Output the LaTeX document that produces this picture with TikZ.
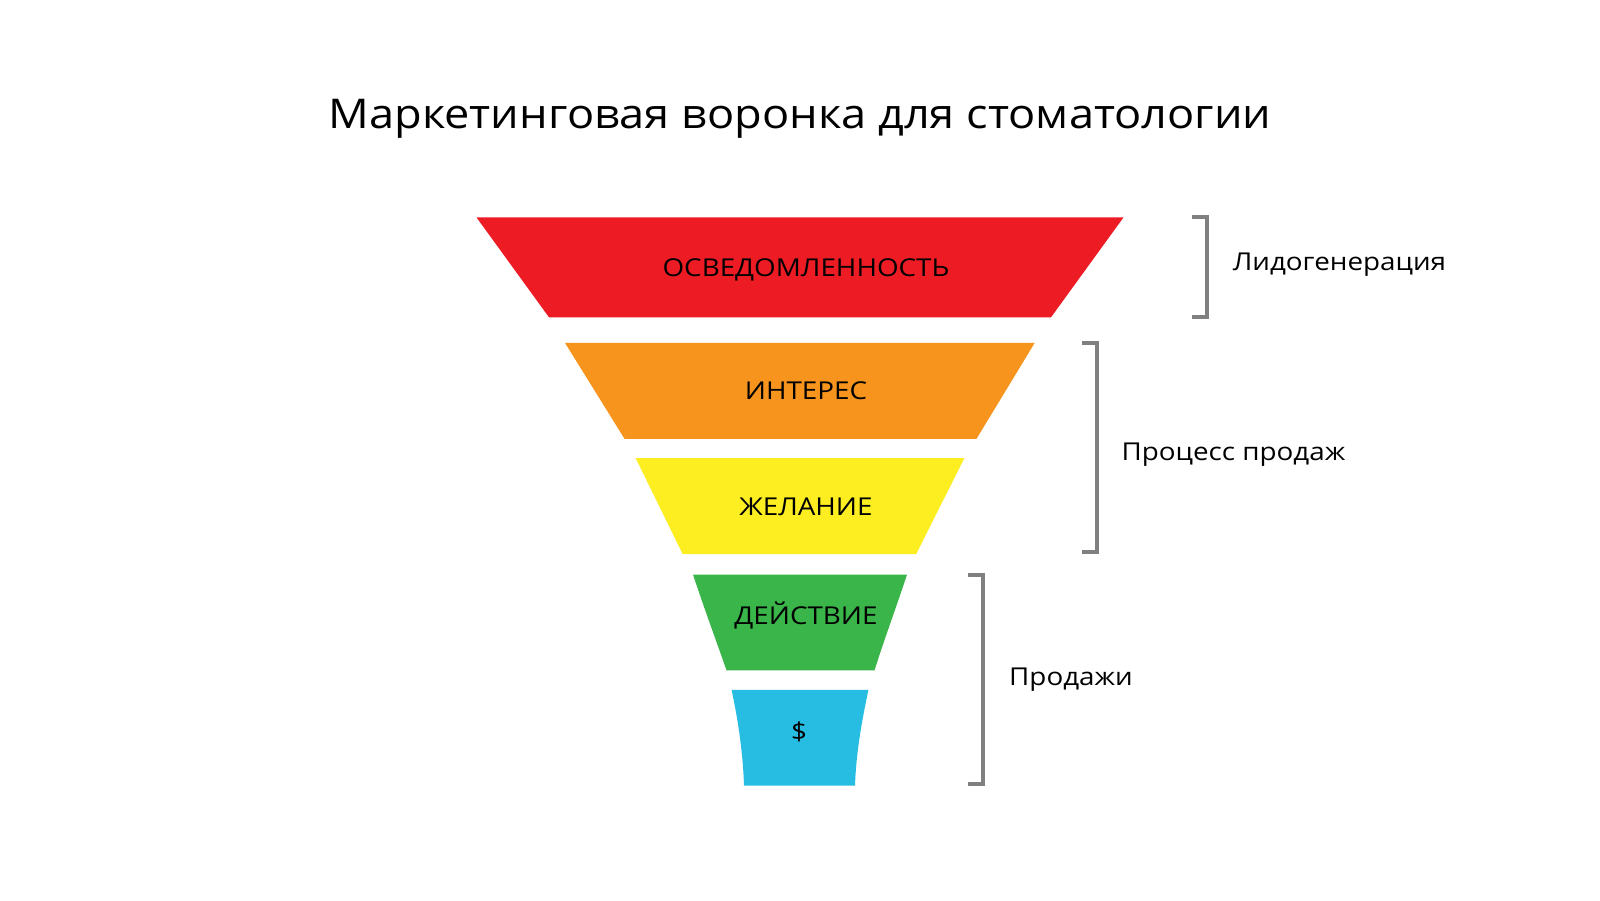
\documentclass[tikz,border=0pt]{standalone}
\usepackage{fontspec}
\setmainfont{Open Sans}
\newfontfamily\ttlfont[FakeStretch=1.10]{Open Sans}
\newfontfamily\lblfont[FakeStretch=1.13]{Open Sans}
\definecolor{fRed}{HTML}{ED1C24}
\definecolor{fOrange}{HTML}{F7941D}
\definecolor{fYellow}{HTML}{FCEE21}
\definecolor{fGreen}{HTML}{39B54A}
\definecolor{fBlue}{HTML}{27BDE3}
\definecolor{brk}{HTML}{808080}
\begin{document}
\begin{tikzpicture}[x=1pt,y=-1pt,
  lbl/.style={anchor=base,inner sep=0pt,font=\lblfont\fontsize{24.6}{30}\selectfont,text=black},
  side/.style={anchor=base west,inner sep=0pt,font=\lblfont\fontsize{24.6}{30}\selectfont,text=black},
  bracket/.style={draw=brk,line width=4pt,line cap=butt,line join=miter}]
\useasboundingbox (0,0) rectangle (1600,900);
\fill[white] (0,0) rectangle (1600,900);
\node[anchor=base,inner sep=0pt,font=\ttlfont\fontsize{41}{48}\selectfont] (title) at (800,128.3) {Маркетинговая воронка для стоматологии};
% funnel segments
\fill[fRed] (476.5,217.4) -- (1123.5,217.4) -- (1051,317.3) -- (549,317.3) -- cycle;
\fill[fOrange] (565,342.9) -- (1034.7,342.9) -- (976.5,438.8) -- (624.5,438.8) -- cycle;
\fill[fYellow] (635.7,458.2) -- (964.3,458.2) -- (916.3,554) -- (682.6,554) -- cycle;
\fill[fGreen] (693,574.5) -- (907,574.5) .. controls (896,608) and (884,640) .. (874.5,670.4) -- (726.5,670.4) .. controls (716,640) and (704,608) .. cycle;
\fill[fBlue] (731.6,689.8) -- (868.4,689.8) .. controls (861,725) and (856,755) .. (855,785.7) -- (744,785.7) .. controls (743,755) and (739,725) .. cycle;
% labels
\node[lbl] (aw) at (806,276.7) {ОСВЕДОМЛЕННОСТЬ};
\node[lbl] (in) at (806,399.3) {ИНТЕРЕС};
\node[lbl] (de) at (806,515.5) {ЖЕЛАНИЕ};
\node[lbl] (ac) at (806,624.5) {ДЕЙСТВИЕ};
\node[lbl] (dl) at (799,740) {\$};
% brackets
\draw[bracket] (1192,217.4) -- (1207,217.4) -- (1207,317.3) -- (1192,317.3);
\draw[bracket] (1082,342.9) -- (1097,342.9) -- (1097,552) -- (1082,552);
\draw[bracket] (968,574.5) -- (982.6,574.5) -- (982.6,784) -- (968,784);
\node[side] (lg) at (1232.6,270.5) {Лидогенерация};
\node[side] (ps) at (1121.4,460) {Процесс продаж};
\node[side] (sl) at (1009,685) {Продажи};
\end{tikzpicture}
\end{document}
